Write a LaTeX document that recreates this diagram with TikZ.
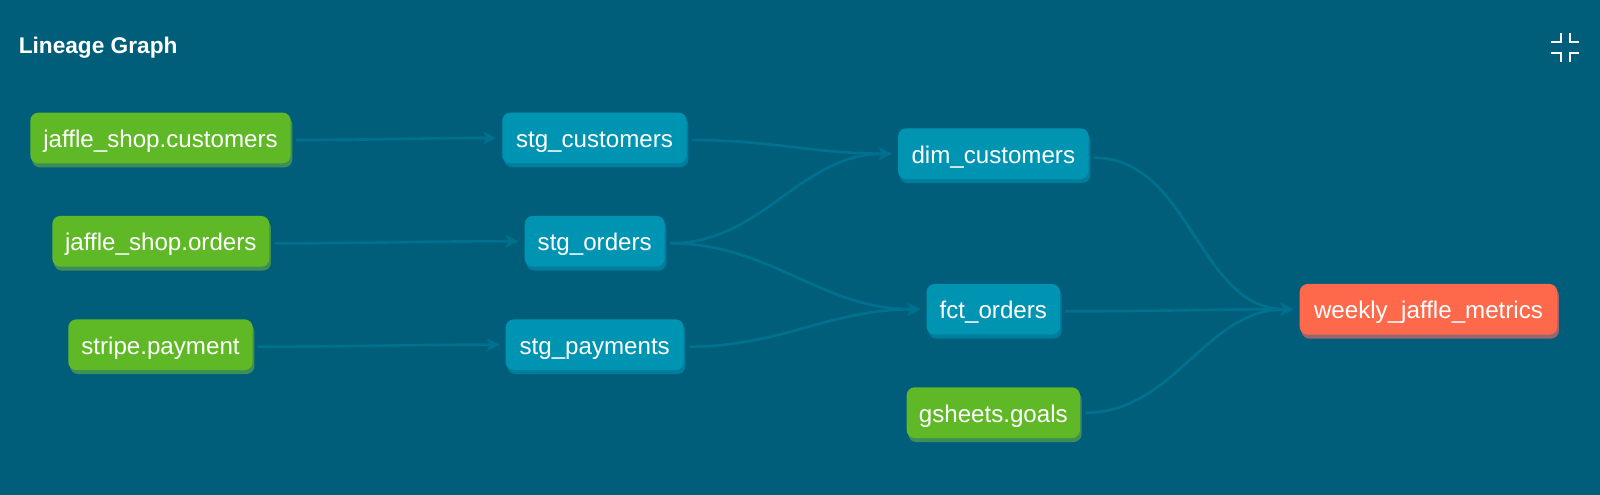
\documentclass[tikz,border=0pt]{standalone}
\usepackage{fontspec}
\setmainfont{Liberation Sans}
\usetikzlibrary{arrows.meta, shadows}
\definecolor{graphbg}{HTML}{005E7A}
\definecolor{edgeblue}{HTML}{00708F}
\definecolor{sourcegreen}{HTML}{5FB825}
\definecolor{sourceshadow}{HTML}{3F8E58}
\definecolor{modelblue}{HTML}{0094B3}
\definecolor{modelshadow}{HTML}{007C9C}
\definecolor{exposurered}{HTML}{FF694B}
\definecolor{exposureshadow}{HTML}{9B6570}

\begin{document}
\begin{tikzpicture}[
  x=0.75pt,
  y=-0.75pt,
  dagnode/.style={
    rounded corners=6pt,
    minimum height=38pt,
    inner sep=0pt,
    align=center,
    text=white,
    text height=16pt,
    text depth=2pt,
    font=\fontsize{18.1pt}{20pt}\selectfont,
  },
  source/.style={
    dagnode,
    fill=sourcegreen,
    drop shadow={shadow xshift=1.25pt, shadow yshift=-3pt, fill=sourceshadow, opacity=1},
  },
  model/.style={
    dagnode,
    fill=modelblue,
    drop shadow={shadow xshift=1.25pt, shadow yshift=-3pt, fill=modelshadow, opacity=1},
  },
  exposure/.style={
    dagnode,
    fill=exposurered,
    drop shadow={shadow xshift=1.25pt, shadow yshift=-3pt, fill=exposureshadow, opacity=1},
  },
  edge/.style={
    draw=edgeblue,
    line width=2pt,
    shorten <=3.75pt,
    shorten >=4.5pt,
    -{Stealth[length=9.5pt, width=9.5pt, inset=2.5pt]},
  },
  iconline/.style={
    draw=white,
    line width=1.9pt,
  },
]

  % Background
  \path[fill=graphbg] (0, 0) rectangle (1600, 495);
  \useasboundingbox (0, 0) rectangle (1600, 495);

  % Title
  \node[anchor=base west, inner sep=0pt, text=white, font=\fontsize{17pt}{20pt}\selectfont\bfseries] (title) at (18.5, 54) {Lineage Graph};

  % Collapse icon
  \draw[iconline] (1551, 42) -- (1561, 42) -- (1561, 33);
  \draw[iconline] (1570, 33) -- (1570, 42) -- (1579, 42);
  \draw[iconline] (1551, 53) -- (1561, 53) -- (1561, 62);
  \draw[iconline] (1570, 62) -- (1570, 53) -- (1579, 53);

  % Sources
  \node[source, minimum width=195.3pt] (customers-src) at (160.5, 138) {jaffle\_shop.customers};
  \node[source, minimum width=162.75pt] (orders-src) at (160.8, 241.3) {jaffle\_shop.orders};
  \node[source, minimum width=138.3pt] (payment-src) at (160.5, 344.7) {stripe.payment};
  \node[source, minimum width=130pt] (goals-src) at (993.3, 412.7) {gsheets.goals};

  % Staging
  \node[model, minimum width=138.3pt] (stg-customers) at (594.5, 138) {stg\_customers};
  \node[model, minimum width=105pt] (stg-orders) at (594.7, 241.3) {stg\_orders};
  \node[model, minimum width=133.5pt] (stg-payments) at (594.7, 344.7) {stg\_payments};

  % Marts
  \node[model, minimum width=143pt] (dim-customers) at (993.3, 153.7) {dim\_customers};
  \node[model, minimum width=100pt] (fct-orders) at (993.3, 309.3) {fct\_orders};

  % Metrics
  \node[exposure, minimum width=193.2pt] (weekly) at (1428.5, 309.3) {weekly\_jaffle\_metrics};

  % Edges
  \draw[edge] ([yshift=-1.5pt]customers-src.east) to[out=0, in=180] (stg-customers.west);
  \draw[edge] ([yshift=-1.5pt]orders-src.east) to[out=0, in=180] (stg-orders.west);
  \draw[edge] ([yshift=-1.5pt]payment-src.east) to[out=0, in=180] (stg-payments.west);
  \draw[edge] ([yshift=-1.5pt]stg-customers.east) to[out=0, in=180] (dim-customers.west);
  \draw[edge] ([yshift=-1.5pt]stg-orders.east) to[out=0, in=180] (dim-customers.west);
  \draw[edge] ([yshift=-1.5pt]stg-orders.east) to[out=0, in=180] (fct-orders.west);
  \draw[edge] ([yshift=-1.5pt]stg-payments.east) to[out=0, in=180] (fct-orders.west);
  \draw[edge] ([yshift=-3pt]dim-customers.east) to[out=0, in=180] (weekly.west);
  \draw[edge] ([yshift=-1.5pt]fct-orders.east) to[out=0, in=180] (weekly.west);
  \draw[edge] (goals-src.east) to[out=0, in=180] (weekly.west);

\end{tikzpicture}
\end{document}
